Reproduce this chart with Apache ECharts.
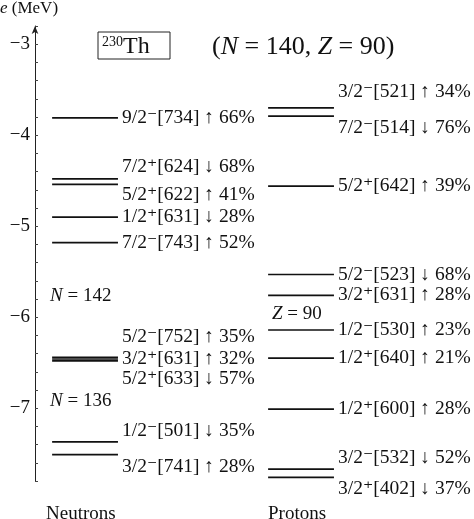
<!DOCTYPE html>
<html>
<head>
<meta charset="utf-8">
<script src="https://cdn.jsdelivr.net/npm/echarts@6/dist/echarts.min.js"></script>
<style>html,body{margin:0;padding:0;background:#fff}#c{width:474px;height:519px}</style>
</head>
<body>
<div id="c"></div>
<script>
// neutron single-particle levels (MeV)
var neutronLabels = ['9/2⁻[734] ↑ 66%', '7/2⁺[624] ↓ 68%', '5/2⁺[622] ↑ 41%', '1/2⁺[631] ↓ 28%', '7/2⁻[743] ↑ 52%',
    '5/2⁻[752] ↑ 35%', '3/2⁺[631] ↑ 32%', '5/2⁺[633] ↓ 57%', '1/2⁻[501] ↓ 35%', '3/2⁻[741] ↑ 28%'];
var neutronEnergies = [-3.81, -4.48, -4.54, -4.90, -5.18, -6.44, -6.46, -6.48, -7.37, -7.51];
// proton single-particle levels (MeV)
var protonLabels = ['3/2⁻[521] ↑ 34%', '7/2⁻[514] ↓ 76%', '5/2⁺[642] ↑ 39%', '5/2⁻[523] ↓ 68%', '3/2⁺[631] ↑ 28%',
    '1/2⁻[530] ↑ 23%', '1/2⁺[640] ↑ 21%', '1/2⁺[600] ↑ 28%', '3/2⁻[532] ↓ 52%', '3/2⁺[402] ↓ 37%'];
var protonEnergies = [-3.70, -3.79, -4.56, -5.53, -5.76, -6.14, -6.45, -7.01, -7.67, -7.76];

// label nudges in px, so close levels do not overlap
var neutronLabelDy = [0, -12, 11, 0, 0, -20, 0, 18, -11, 12];
var protonLabelDy = [-16, 12, 0, 0, 0, 0, 0, 0, -11, 12];

var serif = '"Liberation Serif", "DejaVu Serif", serif';

function levelSeries(energies, labels, dys, x0, x1) {
    return {
        type: 'custom',
        data: energies.map(function(e, i) { return [x0, x1, e, i]; }),
        renderItem: function(params, api) {
            var a = api.coord([api.value(0), api.value(2)]);
            var b = api.coord([api.value(1), api.value(2)]);
            var i = api.value(3);
            return {
                type: 'group',
                children: [{
                    type: 'line',
                    shape: {x1: a[0], y1: a[1], x2: b[0], y2: b[1]},
                    style: {stroke: '#111', lineWidth: 1.6}
                }, {
                    type: 'text',
                    x: b[0] + 4,
                    y: b[1] + dys[i],
                    style: {text: labels[i], font: '19.5px ' + serif, fill: '#111', verticalAlign: 'middle'}
                }]
            };
        }
    };
}

function eq(x, y, sym, val, size) {
    return {
        type: 'text', x: x, y: y,
        style: {
            text: '{i|' + sym + '} = ' + val,
            font: size + 'px ' + serif, fill: '#111', verticalAlign: 'middle',
            rich: {i: {fontStyle: 'italic', fontFamily: serif, fontSize: size}}
        }
    };
}

var chart = echarts.init(document.getElementById('c'));
chart.setOption({
    animation: false,
    grid: {left: 35, right: 0, top: 26, bottom: 38},
    xAxis: {type: 'value', min: 0, max: 100, show: false},
    yAxis: {
        type: 'value', min: -7.8, max: -2.8, interval: 0.2,
        axisLine: {show: true, symbol: ['none', 'arrow'], symbolSize: [5, 8], lineStyle: {color: '#222', width: 1}},
        axisTick: {inside: true, length: 3, lineStyle: {color: '#444'}},
        splitLine: {show: false},
        axisLabel: {
            color: '#111', fontFamily: serif, fontSize: 19, margin: 5,
            formatter: function(v) {
                return Math.abs(v - Math.round(v)) < 1e-6 ? '−' + Math.abs(Math.round(v)) : '';
            }
        }
    },
    series: [
        levelSeries(neutronEnergies, neutronLabels, neutronLabelDy, 3.9, 18.9),
        levelSeries(protonEnergies, protonLabels, protonLabelDy, 53.1, 68.1)
    ],
    graphic: [
        {type: 'text', left: 0, top: 0, style: {text: '{i|e} (MeV)', font: '17px ' + serif, fill: '#111',
            rich: {i: {fontStyle: 'italic', fontFamily: serif, fontSize: 17}}}},
        {type: 'rect', shape: {x: 98, y: 32, width: 72, height: 27}, style: {fill: 'none', stroke: '#222', lineWidth: 1}},
        {type: 'text', x: 102, y: 47, style: {text: '{s|230}Th', font: '24px ' + serif, fill: '#111', verticalAlign: 'middle',
            rich: {s: {fontSize: 14, fontFamily: serif, verticalAlign: 'top', padding: [0, 0, 10, 0]}}}},
        {type: 'text', x: 212, y: 47, style: {
            text: '({i|N} = 140, {i|Z} = 90)', font: '26px ' + serif, fill: '#111', verticalAlign: 'middle',
            rich: {i: {fontStyle: 'italic', fontFamily: serif, fontSize: 26}}}},
        eq(50, 296, 'N', '142', 19),
        eq(50, 401, 'N', '136', 19),
        eq(272, 314, 'Z', '90', 19),
        {type: 'text', x: 46, y: 514, style: {text: 'Neutrons', font: '19px ' + serif, fill: '#111', verticalAlign: 'middle'}},
        {type: 'text', x: 268, y: 514, style: {text: 'Protons', font: '19px ' + serif, fill: '#111', verticalAlign: 'middle'}}
    ]
});
</script>
</body>
</html>
